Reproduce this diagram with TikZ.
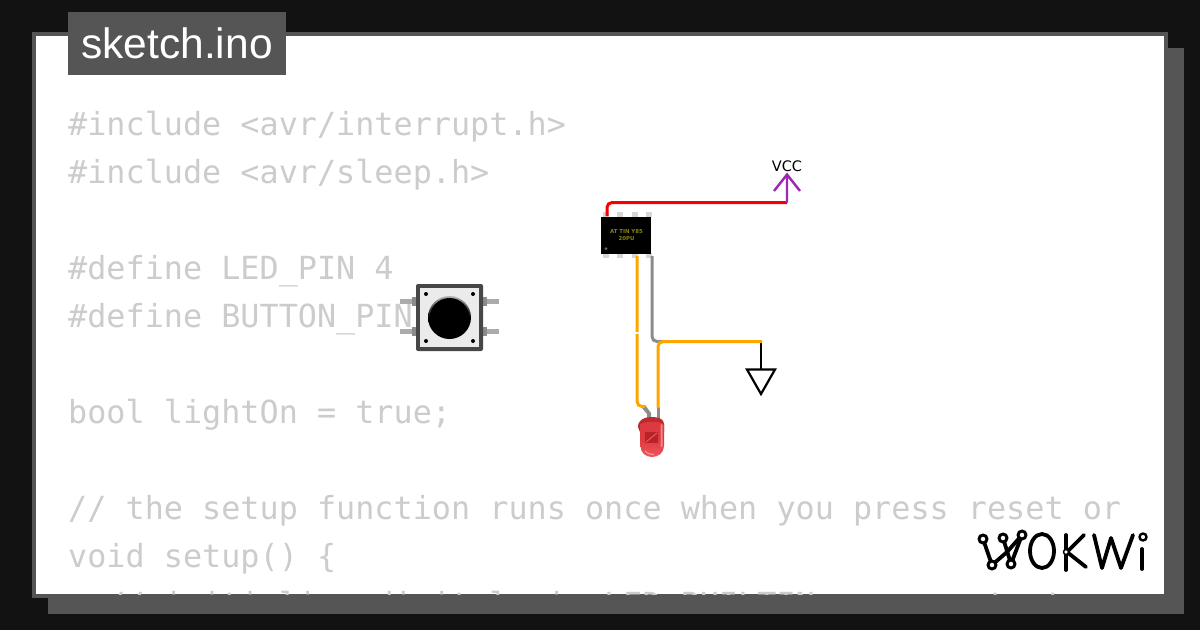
\documentclass[tikz,border=0pt]{standalone}
\usepackage{fontspec}
\setmainfont{Liberation Sans}
\setsansfont{DejaVu Sans}
\setmonofont{DejaVu Sans Mono}
\definecolor{pagedark}{HTML}{121212}
\definecolor{framegray}{HTML}{555555}
\definecolor{codegray}{HTML}{CCCCCC}
\definecolor{wirered}{HTML}{F80000}
\definecolor{wireorange}{HTML}{FFA500}
\definecolor{wiregray}{HTML}{8C8C8C}
\definecolor{vccpurple}{HTML}{9C27B0}
\definecolor{pinlight}{HTML}{D6D6D6}
\definecolor{legcolor}{HTML}{ABABAB}
\definecolor{chiptext}{HTML}{85850F}
\definecolor{ledcap}{HTML}{BE2A2E}
\definecolor{ledbody}{HTML}{DC3A40}
\definecolor{ledlow}{HTML}{F0565C}
\definecolor{ledcore}{HTML}{B92228}
\tikzset{
  codeline/.style={anchor=base west, inner sep=0, text=codegray, font=\fontsize{31.8pt}{32pt}\ttfamily},
  wire/.style={line width=3pt, rounded corners=5pt},
  logostroke/.style={line width=3.8pt, line cap=round, line join=round},
  logopad/.style={circle, draw, fill=white, line width=3pt, minimum size=8pt, inner sep=0},
  chippin/.style={fill=pinlight},
  buttonleg/.style={fill=legcolor}
}
\begin{document}
\begin{tikzpicture}[x=1pt,y=-1pt]
  \useasboundingbox (0,0) rectangle (1200,630);
  % frame
  \fill[pagedark] (0,0) rectangle (1200,630);
  \fill[framegray] (48,48) rectangle (1184,614);
  \fill[framegray] (32,32) rectangle (1168,598);
  \fill[white] (36,36) rectangle (1164,594);

  % code behind the circuit
  \begin{scope}
    \clip (36,36) rectangle (1164,594);
    \node[codeline] (line1) at (68,135) {\#include <avr/interrupt.h>};
    \node[codeline] (line2) at (68,183) {\#include <avr/sleep.h>};
    \node[codeline] (line4) at (68,279) {\#define LED\_PIN 4};
    \node[codeline] (line5) at (68,327) {\#define BUTTON\_PIN 2};
    \node[codeline] (line7) at (68,423) {bool lightOn = true;};
    \node[codeline] (line9) at (68,519) {// the setup function runs once when you press reset or};
    \node[codeline] (line10) at (68,567) {void setup() \{};
    \node[codeline] (line11) at (68,615) {\ \ // initialize digital pin LED\_BUILTIN as an output.};
  \end{scope}

  % title tab
  \fill[framegray] (68,12) rectangle (286,75);
  \node[text=white, font=\fontsize{42.5pt}{44pt}\selectfont, anchor=base, inner sep=0] (title) at (177,58) {sketch.ino};

  % push button
  \fill[buttonleg] (400,299) rectangle (416,304);
  \fill[buttonleg] (400,329) rectangle (416,334);
  \fill[buttonleg] (483,299) rectangle (499,304);
  \fill[buttonleg] (483,329) rectangle (499,334);
  \fill[wiregray] (412,297) rectangle (416,306);
  \fill[wiregray] (412,327) rectangle (416,336);
  \fill[wiregray] (483,297) rectangle (487,306);
  \fill[wiregray] (483,327) rectangle (487,336);
  \fill[black!72, rounded corners=2pt] (416,284) rectangle (483,351);
  \fill[black!8] (420,288) rectangle (479,347);
  \foreach \px in {426,473} \foreach \py in {294,341}
    \fill (\px,\py) circle (2pt);
  \shade[top color=black!30, bottom color=black, middle color=black] (449.5,317.5) circle (21.5pt);
  \fill[black] (449.5,318) circle (20pt);

  % attiny chip
  \foreach \px in {606,620,635,649}{
    \fill[chippin] (\px-3,212) rectangle (\px+3,217);
    \fill[chippin] (\px-3,253) rectangle (\px+3,258);
  }
  \fill[black] (601,217) rectangle (651,253.5);
  \fill[black!60] (606,248.7) circle (1.5pt);
  \node[text=chiptext, font=\sffamily\bfseries\fontsize{5.4pt}{7pt}\selectfont, align=center, inner sep=0] (chip) at (626.5,235.5) {AT TIN Y85\\20PU};

  % led
  \fill[wiregray] (645,405) -- (651,413) -- (651,420) -- (647,420) -- (647,414) -- (642,408) -- cycle;
  \fill[wiregray] (656.5,407) rectangle (659.5,420);
  \fill[ledcap] (638,427) .. controls (638,420) and (644,417) .. (651,417)
    .. controls (659,417) and (664,419) .. (664,424) -- (664,432) -- (640,432) -- (639.5,431) -- cycle;
  \shade[top color=ledbody, bottom color=ledlow, middle color=ledbody] (640.5,424)
    .. controls (648,421) and (657,421) .. (664,424) -- (664,446) .. controls (664,453) and (658,457) .. (652,457)
    .. controls (646,457) and (640.5,453) .. (640.5,446) -- cycle;
  \fill[ledcore] (645,432) rectangle (658,443);
  \draw[ledlow, line width=1pt] (646,442) -- (657,433);
  \fill[white, opacity=.4, rounded corners=1pt] (660.5,424) rectangle (662.5,447);
  \draw[white, opacity=.45, line width=1pt] (645,451) .. controls (648,454) and (651,454.5) .. (654,454.5);

  % named ends of the wires
  \coordinate (vccpin) at (607,216);
  \coordinate (vcc) at (787,202.5);
  \coordinate (pbtop) at (637,256);
  \coordinate (gndpin) at (652,256);
  \coordinate (anode) at (645,406.5);
  \coordinate (cathode) at (658,408);
  \coordinate (gnd) at (762,341.5);

  % gnd
  \draw[black, line width=2.2pt] (761,341.5) -- (761,369);
  \draw[black, line width=2.2pt, line join=miter] (747,369.5) -- (775,369.5) -- (761,394) -- cycle;

  % wires
  \draw[wire, wiregray] (gndpin) -- (652,341.5) -- (664,341.5);
  \draw[wire, wireorange] (pbtop) -- (637,406.5) -- (anode);
  \draw[wire, wireorange] (cathode) -- (658,341.5) -- (gnd);
  \draw[wire, wirered] (vccpin) -- (607,202.5) -- (vcc);
  \fill[white] (634,331.5) rectangle (640,333.5);

  % vcc
  \draw[vccpurple, line width=2.4pt] (vcc) -- (787,174) (774,191) -- (787,174.5) -- (800,191);
  \node[font=\fontsize{14.5pt}{14.5pt}\selectfont, inner sep=0] (vcclabel) at (787,166) {\sffamily VCC};

  % wokwi logo
  \begin{scope}[logostroke]
    \draw (983,539) -- (992,565) -- (1007,552);
    \draw (1007,552) -- (1022,535);
    \draw (1003,538) -- (1011,564) -- (1022,535);
    \draw (1042,551) ellipse (12pt and 17pt);
    \draw (1066,535) -- (1066,570);
    \draw (1084,535) -- (1067,552) -- (1086,567);
    \draw (1094,535) -- (1102,568) -- (1111,538) -- (1121,568) -- (1133,535);
    \draw (1142,549) -- (1142,569);
    \node[logopad] (pada) at (983,539) {};
    \node[logopad] (padb) at (1003,538) {};
    \node[logopad] (padc) at (1022,535) {};
    \node[logopad] (padd) at (992,565) {};
    \node[logopad] (pade) at (1011,564) {};
    \node[logopad, minimum size=7pt, line width=2.4pt] (padf) at (1143,537) {};
    \node[logopad, minimum size=5pt, line width=1.5pt] (padg) at (1066,552) {};
  \end{scope}
\end{tikzpicture}
\end{document}
